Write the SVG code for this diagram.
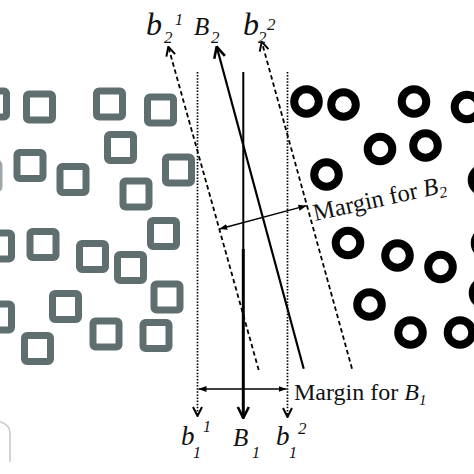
<svg xmlns="http://www.w3.org/2000/svg" width="474" height="474" viewBox="0 0 474 474">
<style>
.sq{fill:none;stroke:#5f6e6f;stroke-width:7}
.ring{fill:none;stroke:#000;stroke-width:8}
.ln{fill:none;stroke:#000}
.it{font-family:"Liberation Serif","Times New Roman",serif;font-style:italic;fill:#111}
.rm{font-family:"Liberation Serif","Times New Roman",serif;fill:#111}
</style>
<defs>
<marker id="v" viewBox="0 0 12 12" refX="11" refY="6" markerWidth="12" markerHeight="12" markerUnits="userSpaceOnUse" orient="auto">
<path d="M2,1.5 L11,6 L2,10.5" fill="none" stroke="#000" stroke-width="2"/>
</marker>
<marker id="vb" viewBox="0 0 14 14" refX="13" refY="7" markerWidth="14" markerHeight="14" markerUnits="userSpaceOnUse" orient="auto">
<path d="M2,1.5 L13,7 L2,12.5" fill="none" stroke="#000" stroke-width="2.6"/>
</marker>
<marker id="f" viewBox="0 0 8 8" refX="8" refY="4" markerWidth="8" markerHeight="8" markerUnits="userSpaceOnUse" orient="auto-start-reverse">
<path d="M0,1 L8,4 L0,7 Z" fill="#000"/>
</marker>
</defs>
<rect width="474" height="474" fill="#fff"/>
<g id="squares">
<rect class="sq" x="-19.5" y="91" width="26" height="26" rx="2.5"/>
<rect class="sq" x="26.5" y="94" width="26" height="26" rx="2.5"/>
<rect class="sq" x="96.5" y="91" width="26" height="26" rx="2.5"/>
<rect class="sq" x="147.5" y="97" width="26" height="26" rx="2.5"/>
<rect class="sq" x="107.5" y="134.5" width="26" height="26" rx="2.5"/>
<rect class="sq" x="17" y="152.5" width="26" height="26" rx="2.5"/>
<rect class="sq" x="-27" y="163" width="26" height="26" rx="2.5" opacity="0.6"/>
<rect class="sq" x="60" y="166.5" width="26" height="26" rx="2.5"/>
<rect class="sq" x="165.5" y="157" width="26" height="26" rx="2.5"/>
<rect class="sq" x="123" y="181" width="26" height="26" rx="2.5"/>
<rect class="sq" x="150.5" y="220.5" width="26" height="26" rx="2.5"/>
<rect class="sq" x="-14.5" y="233" width="26" height="26" rx="2.5"/>
<rect class="sq" x="30" y="231.5" width="26" height="26" rx="2.5"/>
<rect class="sq" x="79.5" y="243.5" width="26" height="26" rx="2.5"/>
<rect class="sq" x="117.5" y="254.5" width="26" height="26" rx="2.5"/>
<rect class="sq" x="154" y="284" width="26" height="26" rx="2.5"/>
<rect class="sq" x="52.5" y="293.5" width="26" height="26" rx="2.5"/>
<rect class="sq" x="-14.5" y="304" width="26" height="26" rx="2.5"/>
<rect class="sq" x="93" y="321" width="26" height="26" rx="2.5"/>
<rect class="sq" x="143" y="322.5" width="26" height="26" rx="2.5"/>
<rect class="sq" x="24.5" y="335.5" width="26" height="26" rx="2.5"/>
</g>
<g id="rings">
<circle class="ring" cx="306.5" cy="101.5" r="12.3"/>
<circle class="ring" cx="343.5" cy="104.5" r="12.3"/>
<circle class="ring" cx="414" cy="101.5" r="12.3"/>
<circle class="ring" cx="467" cy="107" r="12.3"/>
<circle class="ring" cx="380" cy="149" r="12.3"/>
<circle class="ring" cx="425.5" cy="145.5" r="12.3"/>
<circle class="ring" cx="326.5" cy="174.5" r="12.3"/>
<circle class="ring" cx="484" cy="180" r="12.3"/>
<circle class="ring" cx="348" cy="243" r="12.3"/>
<circle class="ring" cx="397.5" cy="255.5" r="12.3"/>
<circle class="ring" cx="440.5" cy="267" r="12.3"/>
<circle class="ring" cx="487" cy="243" r="12.3"/>
<circle class="ring" cx="369.5" cy="304.5" r="12.3"/>
<circle class="ring" cx="485" cy="293" r="12.3"/>
<circle class="ring" cx="410.5" cy="332.5" r="12.3"/>
<circle class="ring" cx="460" cy="332.5" r="12.3"/>
</g>
<g id="connectors">
<line class="ln" x1="197.5" y1="72" x2="197.5" y2="416" stroke-width="1.7" stroke-dasharray="1.5 1.6" marker-end="url(#v)"/>
<line class="ln" x1="287.5" y1="72" x2="287.5" y2="417" stroke-width="1.7" stroke-dasharray="1.5 1.6" marker-end="url(#v)"/>
<line class="ln" x1="243.3" y1="72" x2="243.3" y2="250" stroke-width="2"/>
<line class="ln" x1="243.3" y1="249" x2="243.3" y2="418" stroke-width="3" marker-end="url(#vb)"/>
<line class="ln" x1="303.7" y1="368.7" x2="216.7" y2="46.7" stroke-width="2.2" marker-end="url(#vb)"/>
<line class="ln" x1="258.7" y1="370" x2="168.3" y2="46.7" stroke-width="1.8" stroke-dasharray="4.5 3" marker-end="url(#v)"/>
<line class="ln" x1="352" y1="368.7" x2="261.7" y2="41.7" stroke-width="1.8" stroke-dasharray="4.5 3" marker-end="url(#v)"/>
<line class="ln" x1="219.3" y1="229" x2="306.5" y2="205.7" stroke-width="1.3" marker-start="url(#f)" marker-end="url(#f)"/>
<line class="ln" x1="198.5" y1="389" x2="286.5" y2="389" stroke-width="1.3" marker-start="url(#f)" marker-end="url(#f)"/>
</g>
<g id="label-b2-1"><text class="it" x="146" y="35" font-size="32">b</text><text class="it" x="164" y="43" font-size="17">2</text><text class="it" x="175" y="25" font-size="16">1</text></g>
<g id="label-B2"><text class="it" x="194" y="35" font-size="25">B</text><text class="it" x="211" y="43" font-size="17">2</text></g>
<g id="label-b2-2"><text class="it" x="243" y="35" font-size="32">b</text><text class="it" x="258" y="43" font-size="17">2</text><text class="it" x="267" y="30" font-size="17">2</text></g>
<g id="label-b1-1"><text class="it" x="181" y="445" font-size="27">b</text><text class="it" x="193" y="458" font-size="16">1</text><text class="it" x="203" y="432" font-size="16">1</text></g>
<g id="label-B1"><text class="it" x="233" y="446" font-size="25">B</text><text class="it" x="252" y="458" font-size="16">1</text></g>
<g id="label-b1-2"><text class="it" x="276" y="445" font-size="27">b</text><text class="it" x="289" y="458" font-size="16">1</text><text class="it" x="298" y="434" font-size="17">2</text></g>
<g id="label-margin-B1"><text class="rm" x="294" y="400" font-size="24">Margin for <tspan class="it">B</tspan><tspan class="it" font-size="15" dy="5">1</tspan></text></g>
<g id="label-margin-B2" transform="translate(315 221) rotate(-12.5)"><text class="rm" x="0" y="0" font-size="24.5">Margin for <tspan class="it">B</tspan><tspan class="it" font-size="16" dy="5">2</tspan></text></g>
<path d="M0,421.7 Q10,425 10,433 L10,462" fill="none" stroke="#c8c8c8" stroke-width="1.5"/>
</svg>
